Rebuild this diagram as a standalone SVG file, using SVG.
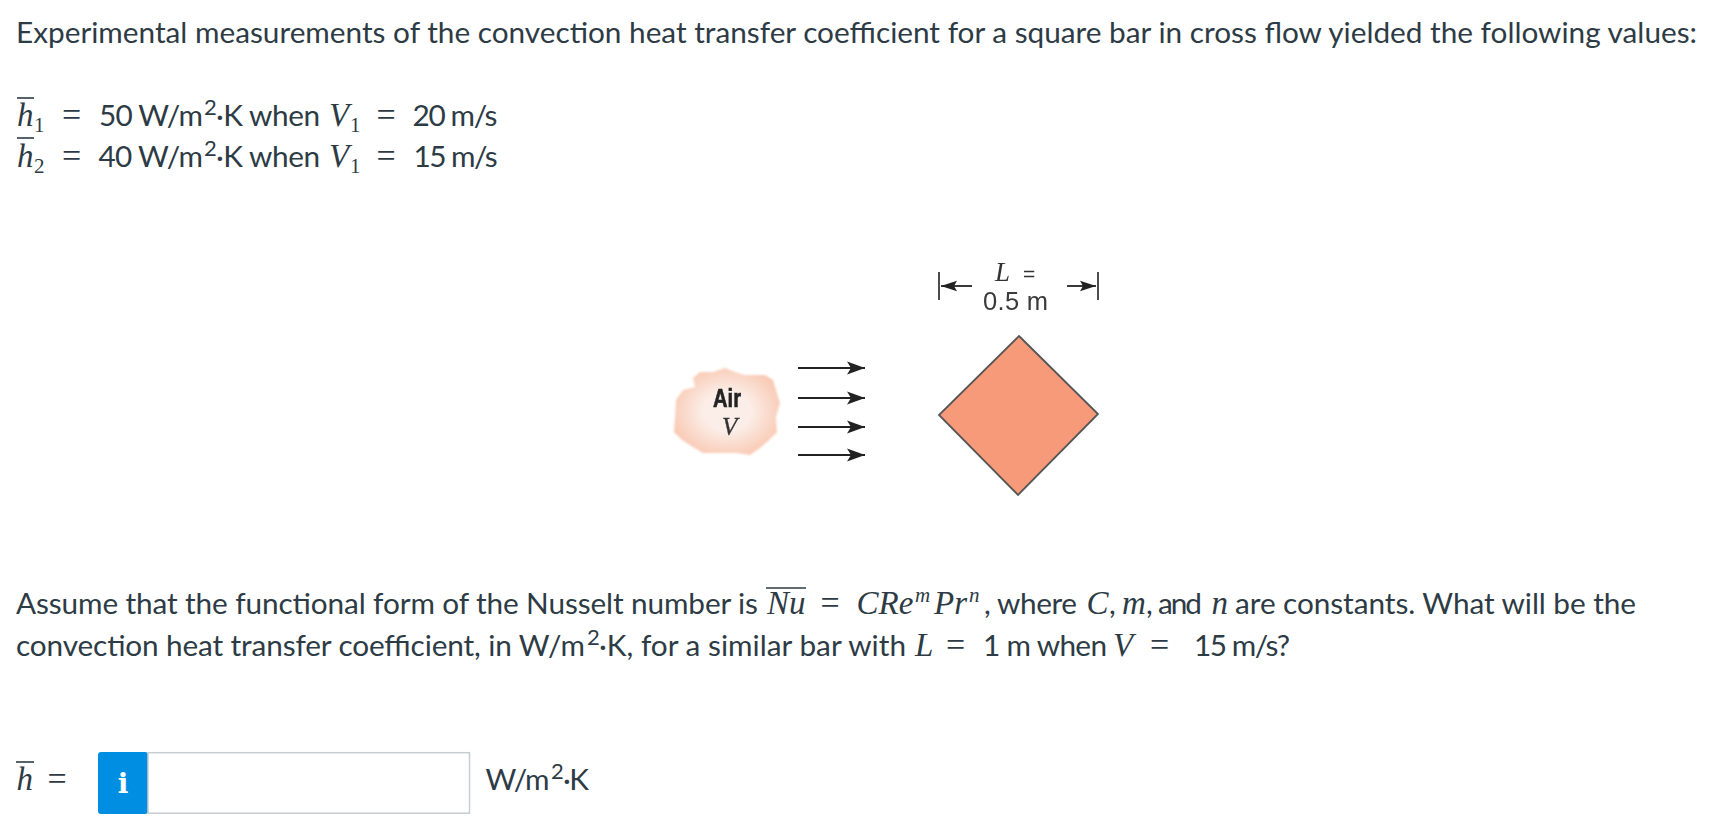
<svg xmlns="http://www.w3.org/2000/svg" width="1733" height="823" viewBox="0 0 1733 823">
<style>
text{font-family:Lato,"Noto Sans",sans-serif;font-size:29.76px;fill:#2d3b45}
.m{font-family:"Liberation Serif",serif;font-style:italic;font-size:33px}
.r{font-family:"Liberation Serif",serif;font-size:21px}
.e{font-family:"Liberation Serif",serif;font-size:34px}
.s{font-size:22px}
.q{font-family:"Liberation Serif",serif;font-style:italic;font-size:21px}
.over{stroke:#2d3b45;stroke-width:1.6}
.a{stroke:#222;stroke-width:2;fill:none;marker-end:url(#h)}
.b{stroke:#222;stroke-width:1.8;fill:none;marker-end:url(#k)}
.d{stroke:#222;stroke-width:1.6;fill:none}
</style>
<defs>
<marker id="h" markerUnits="userSpaceOnUse" markerWidth="20" markerHeight="14" refX="18" refY="7" orient="auto"><path d="M0 0.5L18 7L0 13.5L4 7Z" fill="#222"/></marker>
<marker id="k" markerUnits="userSpaceOnUse" markerWidth="18" markerHeight="12" refX="16" refY="6" orient="auto"><path d="M0 0.8L16 6L0 11.2L3 6Z" fill="#222"/></marker>
<radialGradient id="cl" cx="50%" cy="50%" r="55%"><stop offset="0.4" stop-color="#fbeee8"/><stop offset="1" stop-color="#f9c8b2"/></radialGradient>
<filter id="soft" x="-10%" y="-10%" width="120%" height="120%"><feGaussianBlur stdDeviation="0.45"/></filter>
<filter id="softer" x="-10%" y="-10%" width="120%" height="120%"><feGaussianBlur stdDeviation="1.2"/></filter>
</defs>
<rect width="1733" height="823" fill="#fff"/>
<g id="text-intro"><text x="16" y="43" textLength="1681">Experimental measurements of the convection heat transfer coefficient for a square bar in cross flow yielded the following values:</text></g>
<g id="eq1">
<line class="over" x1="17" x2="34" y1="98" y2="98"/>
<text class="m" x="17" y="126">h</text><text class="r" x="34" y="132">1</text>
<text class="e" x="62" y="126">=</text>
<text x="99" y="126" textLength="104">50 W/m</text><text class="s" x="204" y="115">2</text><text x="216" y="126" textLength="104">·K when</text>
<text class="m" x="329" y="126">V</text><text class="r" x="350" y="132">1</text>
<text class="e" x="376.5" y="126">=</text><text x="412.5" y="126" textLength="85">20 m/s</text>
</g>
<g id="eq2">
<line class="over" x1="17" x2="34" y1="138" y2="138"/>
<text class="m" x="17" y="167">h</text><text class="r" x="34" y="173">2</text>
<text class="e" x="62" y="167">=</text>
<text x="98.5" y="167" textLength="104.5">40 W/m</text><text class="s" x="204" y="156">2</text><text x="216" y="167" textLength="104">·K when</text>
<text class="m" x="329" y="167">V</text><text class="r" x="350" y="173">1</text>
<text class="e" x="376.5" y="167">=</text><text x="413.6" y="167" textLength="84">15 m/s</text>
</g>
<g id="air">
<path d="M676 400L683 390L695 387L693 378L700 372L713 372L725 368L735 372L745 375L765 375L773 380L776 390L780 403L776 417L777 432L767 442L760 448L750 455L737 453L722 453L703 453L693 447L682 440L674 432L675 417Z" fill="url(#cl)" filter="url(#softer)"/>
<text x="713" y="406.5" textLength="28" lengthAdjust="spacingAndGlyphs" filter="url(#soft)" style="font-family:'Liberation Sans',sans-serif;font-size:25px;font-weight:700;fill:#222;stroke:#222;stroke-width:.6">Air</text>
<text x="722" y="435" filter="url(#soft)" style="font-family:'Liberation Serif',serif;font-style:italic;font-size:25px;fill:#333;stroke:#333;stroke-width:.3">V</text>
</g>
<g id="bar"><path d="M1019 336L1098 414L1018 495L939 415Z" fill="#f79a7a" stroke="#555" stroke-width="1.8" filter="url(#soft)"/></g>
<g id="dim" filter="url(#soft)">
<text x="995" y="281" style="font-family:'Liberation Serif',serif;font-style:italic;font-size:27px;fill:#333">L</text>
<text x="1023" y="281" style="font-family:'Liberation Sans',sans-serif;font-size:21px;fill:#333">=</text>
<text x="983" y="310" textLength="65" style="font-family:'Liberation Sans',sans-serif;font-size:25.5px;fill:#3a3a3a">0.5 m</text>
</g>
<g id="connectors" filter="url(#soft)">
<path class="a" d="M798 368H865"/><path class="a" d="M798 398H865"/><path class="a" d="M798 427H865"/><path class="a" d="M798 455H865"/>
<path class="b" d="M972 286H941"/><path class="b" d="M1067 286H1096"/>
<path class="d" d="M939 272V300M1098 272V300"/>
</g>
<g id="text-para">
<text x="16" y="614" textLength="742">Assume that the functional form of the Nusselt number is</text>
<line class="over" x1="766" x2="806" y1="588" y2="588"/>
<text class="m" x="767" y="614">Nu</text>
<text class="e" x="820.5" y="614">=</text>
<text class="m" x="856.5" y="614">CRe</text><text class="q" x="915" y="602">m</text><text class="m" x="934" y="614">Pr</text><text class="q" x="969" y="602">n</text>
<text x="984" y="614" textLength="93">, where</text><text class="m" x="1086.5" y="614">C</text><text x="1109" y="614">,</text><text class="m" x="1122" y="614">m</text><text x="1146" y="614">,</text><text x="1158" y="614" textLength="44">and</text><text class="m" x="1211.5" y="614">n</text><text x="1235" y="614" textLength="401">are constants. What will be the</text>
<text x="16" y="656" textLength="569">convection heat transfer coefficient, in W/m</text><text class="s" x="587" y="645">2</text><text x="599" y="656" textLength="307">·K, for a similar bar with</text>
<text class="m" x="915" y="656">L</text><text class="e" x="946" y="656">=</text><text x="983" y="656" textLength="124">1 m when</text><text class="m" x="1113" y="656">V</text><text class="e" x="1150" y="656">=</text><text x="1194" y="656" textLength="96">15 m/s?</text>
</g>
<g id="answer">
<line class="over" x1="16" x2="34" y1="762" y2="762"/>
<text class="m" x="16.5" y="790">h</text><text class="e" x="47.5" y="790">=</text>
<rect x="98" y="752" width="50" height="62" rx="3" fill="#008ee2"/>
<rect x="148" y="752.7" width="321.5" height="60.5" fill="#fff" stroke="#c7cdd1" stroke-width="1.5"/>
<text x="123" y="793" text-anchor="middle" style="font-family:'DejaVu Serif',serif;font-size:28px;font-weight:700;fill:#fff">i</text>
<text x="485.6" y="790" textLength="64">W/m</text><text class="s" x="551" y="779">2</text><text x="563" y="790" textLength="26">·K</text>
</g>
</svg>
